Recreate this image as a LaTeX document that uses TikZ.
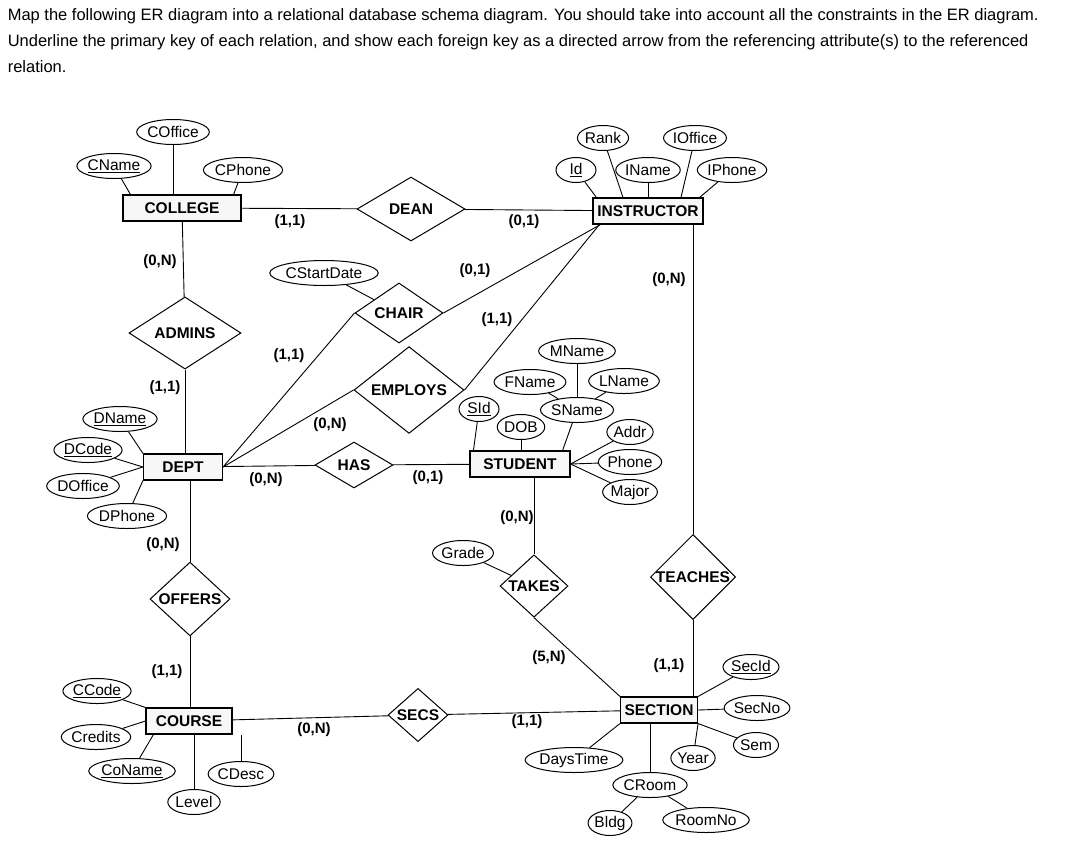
\documentclass[tikz,border=0pt]{standalone}
\usepackage{fontspec}
\setmainfont{Liberation Sans}
\usetikzlibrary{shapes.geometric}
\begin{document}
\begin{tikzpicture}[x=1pt,y=-1pt,
  every node/.style={font=\fontsize{15.5}{17}\selectfont},
  attr/.style={draw,ellipse,inner xsep=0pt,inner ysep=0pt,minimum height=25pt,minimum width=40pt,fill=white,line width=1pt},
  ent/.style={draw,rectangle,line width=1.1pt,font=\fontsize{15.5}{17}\selectfont\bfseries,inner sep=1pt,minimum height=26pt,fill=gray!6},
  rel/.style={draw,diamond,font=\fontsize{15.5}{17}\selectfont\bfseries,inner sep=0pt,line width=1pt},
  card/.style={font=\fontsize{15}{17}\selectfont\bfseries},
  line width=0.9pt]
\useasboundingbox (0,0) rectangle (1075,852);
\node[anchor=north west,align=left,font=\fontsize{16.5}{26}\selectfont] (hdr) at (4,5) {Map the following ER diagram into a relational database schema diagram. You should take into account all the constraints in the ER diagram.\\ Underline the primary key of each relation, and show each foreign key as a directed arrow from the referencing attribute(s) to the referenced\\ relation.};
% entities
\node[ent,minimum width=118pt] (college) at (182,208) {COLLEGE};
\node[ent,minimum width=110pt] (instr) at (648,211) {INSTRUCTOR};
\node[ent,minimum width=79pt] (dept) at (183,467) {DEPT};
\node[ent,minimum width=100pt] (student) at (520,464) {STUDENT};
\node[ent,minimum width=86pt] (course) at (189,721) {COURSE};
\node[ent,minimum width=77pt] (section) at (659,710) {SECTION};
% relationships
\node[rel,minimum width=108pt,minimum height=64pt] (dean) at (411,209) {DEAN};
\node[rel,minimum width=112pt,minimum height=64pt] (admins) at (185,333) {ADMINS};
\node[rel,minimum width=88pt,minimum height=52pt] (chair) at (399,313) {CHAIR};
\node[rel,minimum width=110pt,minimum height=62pt] (employs) at (409,390) {EMPLOYS};
\node[rel,minimum width=78pt,minimum height=46pt] (has) at (354,465) {HAS};
\node[rel,minimum width=80pt,minimum height=64pt] (offers) at (190,599) {OFFERS};
\node[rel,minimum width=60pt,minimum height=46pt] (secs) at (418,715) {SECS};
\node[rel,minimum width=68pt,minimum height=62pt] (takes) at (534,586) {TAKES};
\node[rel,minimum width=80pt,minimum height=64pt] (teaches) at (693,577) {TEACHES};
% attributes
\node[attr] (coffice) at (173,132) {COffice};
\node[attr] (cname) at (114,166) {\underline{CName}};
\node[attr] (cphone) at (243,170) {CPhone};
\node[attr] (rank) at (603,138) {Rank};
\node[attr] (ioffice) at (695,138) {IOffice};
\node[attr] (id) at (576,170) {\underline{Id}};
\node[attr] (iname) at (648,170) {IName};
\node[attr] (iphone) at (732,170) {IPhone};
\node[attr] (cstart) at (324,273) {CStartDate};
\node[attr] (dname) at (120,419) {\underline{DName}};
\node[attr] (dcode) at (88,450) {\underline{DCode}};
\node[attr] (doffice) at (83,486) {DOffice};
\node[attr] (dphone) at (127,516) {DPhone};
\node[attr] (mname) at (577,351) {MName};
\node[attr] (fname) at (530,382) {FName};
\node[attr] (lname) at (624,381) {LName};
\node[attr] (sname) at (577,410) {SName};
\node[attr] (sid) at (479,409) {\underline{SId}};
\node[attr] (dob) at (521,427) {DOB};
\node[attr] (addr) at (630,432) {Addr};
\node[attr] (phone) at (630,462) {Phone};
\node[attr] (major) at (630,492) {Major};
\node[attr] (grade) at (463,553) {Grade};
\node[attr] (ccode) at (97,691) {\underline{CCode}};
\node[attr] (credits) at (96,737) {Credits};
\node[attr] (coname) at (132,771) {\underline{CoName}};
\node[attr] (level) at (194,802) {Level};
\node[attr] (cdesc) at (241,774) {CDesc};
\node[attr] (secid) at (751,667) {\underline{SecId}};
\node[attr] (secno) at (757,708) {SecNo};
\node[attr] (sem) at (756,745) {Sem};
\node[attr] (year) at (693,758) {Year};
\node[attr] (days) at (574,760) {DaysTime};
\node[attr] (croom) at (650,785) {CRoom};
\node[attr] (bldg) at (610,823) {Bldg};
\node[attr] (roomno) at (706,820) {RoomNo};
% attribute lines
\draw (coffice) -- (college.north -| coffice);
\draw (cname) -- ([xshift=8pt]college.north west);
\draw (cphone) -- ([xshift=-8pt]college.north east);
\draw (id) -- ([xshift=4pt]instr.north west);
\draw (rank) -- ([xshift=-25pt]instr.north);
\draw (iname) -- (instr.north);
\draw (ioffice) -- ([xshift=33pt]instr.north);
\draw (iphone) -- ([xshift=-4pt]instr.north east);
\draw (cstart) -- (chair);
\draw (dname) -- (dept.north west);
\draw (dcode) -- (dept.west);
\draw (doffice) -- (dept.west);
\draw (dphone) -- (dept.south west);
\draw (mname) -- (sname);
\draw (fname) -- (sname);
\draw (lname) -- (sname);
\draw (sid) -- ([xshift=4pt]student.north west);
\draw (dob) -- (dob |- student.north);
\draw (sname) -- ([xshift=-8pt]student.north east);
\draw (addr) -- (student.east);
\draw (phone) -- (student.east);
\draw (major) -- (student.east);
\draw (grade) -- (takes);
\draw (ccode) -- (course.north west);
\draw (credits) -- (course.west);
\draw (coname) -- ([xshift=8pt]course.south west);
\draw (level) -- (level |- course.south);
\draw (cdesc) -- (cdesc |- course.south);
\draw (secid) -- (section.north east);
\draw (secno) -- (section.east);
\draw (sem) -- (section.south east);
\draw (year) -- (section.south east);
\draw (days) -- (section.south west);
\draw (croom) -- (croom |- section.south);
\draw (bldg) -- (croom);
\draw (roomno) -- (croom);
% relationship lines
\draw (college) -- (dean);
\draw (dean) -- (instr);
\draw (college) -- (admins);
\draw (admins) -- (dept.north -| admins);
\draw (dept.east) -- (chair.west);
\draw (chair.east) -- ([xshift=8pt]instr.south west);
\draw (dept.east) -- (employs.west);
\draw (employs.east) -- ([xshift=7pt]instr.south west);
\draw (dept) -- (has);
\draw (has) -- (student);
\draw (dept.south -| offers) -- (offers);
\draw (offers) -- (course.north -| offers);
\draw (course) -- (secs);
\draw (secs) -- (section);
\draw (student.south -| takes) -- (takes);
\draw (takes.south) -- (section.north west);
\draw (instr.south -| teaches) -- (teaches);
\draw (teaches) -- (section.north -| teaches);
% cardinalities
\node[card] (c1) at (290,222) {(1,1)};
\node[card] (c2) at (524,222) {(0,1)};
\node[card] (c3) at (160,262) {(0,N)};
\node[card] (c4) at (165,388) {(1,1)};
\node[card] (c5) at (475,271) {(0,1)};
\node[card] (c6) at (289,356) {(1,1)};
\node[card] (c7) at (497,320) {(1,1)};
\node[card] (c8) at (330,425) {(0,N)};
\node[card] (c9) at (266,480) {(0,N)};
\node[card] (c10) at (428,478) {(0,1)};
\node[card] (c11) at (669,280) {(0,N)};
\node[card] (c12) at (517,518) {(0,N)};
\node[card] (c13) at (163,545) {(0,N)};
\node[card] (c14) at (549,658) {(5,N)};
\node[card] (c15) at (669,666) {(1,1)};
\node[card] (c16) at (167,672) {(1,1)};
\node[card] (c17) at (314,730) {(0,N)};
\node[card] (c18) at (527,722) {(1,1)};
\end{tikzpicture}
\end{document}
